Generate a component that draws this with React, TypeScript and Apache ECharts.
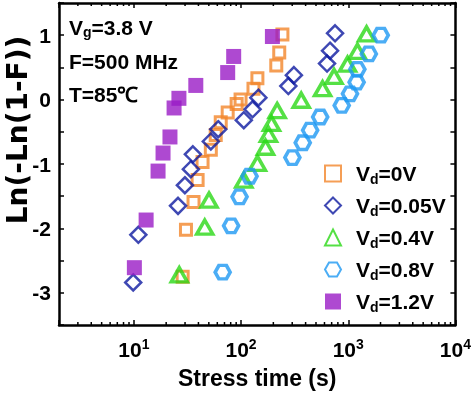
import React, { useEffect, useRef } from "react";
import * as echarts from "echarts";

// ---------- data ----------
const seriesNames = ["Vd=0V", "Vd=0.05V", "Vd=0.4V", "Vd=0.8V", "Vd=1.2V"];
const legendLabels = ["0V", "0.05V", "0.4V", "0.8V", "1.2V"];

const vd0Time = [28.5, 30.6, 36.0, 39.3, 43.7, 52.2, 58.0, 64.6, 75.0, 90.9, 98.9, 130.5, 142, 213, 227, 243];
const vd0Y = [-2.75, -2.02, -1.59, -1.25, -0.97, -0.78, -0.55, -0.35, -0.2, -0.07, 0.0, 0.17, 0.33, 0.53, 0.73, 1.01];

const vd005Time = [9.85, 11.0, 25.8, 29.9, 34.0, 35.5, 52.2, 61.2, 106, 128, 145, 276, 311, 634, 676, 753];
const vd005Y = [-2.84, -2.1, -1.65, -1.33, -1.08, -0.85, -0.65, -0.46, -0.32, -0.15, 0.03, 0.21, 0.38, 0.56, 0.76, 1.03];

const vd04Time = [26.5, 45.8, 50.2, 106, 142, 169, 180, 192, 217, 364, 576, 737, 984, 1217, 1482];
const vd04Y = [-2.72, -1.98, -1.56, -1.25, -0.99, -0.74, -0.54, -0.37, -0.17, -0.01, 0.17, 0.36, 0.55, 0.75, 1.02];

const vd08Time = [67.3, 80.7, 96.8, 120, 301, 376, 441, 547, 869, 1038, 1197, 1217, 1556, 2010];
const vd08Y = [-2.68, -1.96, -1.51, -1.19, -0.9, -0.67, -0.475, -0.27, -0.09, 0.09, 0.27, 0.47, 0.71, 1.0];

const vd12Time = [10.1, 13.0, 16.8, 18.7, 21.7, 23.7, 26.3, 37.8, 75.0, 85.3, 196];
const vd12Y = [-2.61, -1.87, -1.11, -0.83, -0.58, -0.13, 0.02, 0.22, 0.42, 0.67, 0.98];

const xMin = 2;
const xMax = 10000;
const yMin = -3.5;
const yMax = 1.5;
const yInterval = 0.5;
const xMinorTicks = [3, 4, 5, 6, 7, 8, 9, 20, 30, 40, 50, 60, 70, 80, 90, 200, 300, 400, 500, 600, 700, 800, 900, 2000, 3000, 4000, 5000, 6000, 7000, 8000, 9000];

const annotations = [
  { main: "V", sub: "g", rest: "=3.8 V" },
  { main: "F=500 MHz", sub: "", rest: "" },
  { main: "T=85\u2103", sub: "", rest: "" },
];

// ---------- styles ----------
const FONT = '"Liberation Sans", Arial, sans-serif';
const COLORS = ["#F2862A", "#0E1AA0", "#2AD816", "#1E98F2", "#9A1CC6"];
const HEX = "path://M0,8.66 L5,0 L15,0 L20,8.66 L15,17.32 L5,17.32 Z";

function zip(a: number[], b: number[]) {
  return a.map((v, i) => [v, b[i]]);
}

export default function App() {
  const ref = useRef<HTMLDivElement>(null);

  useEffect(() => {
    if (!ref.current) return;
    const chart = echarts.init(ref.current, null, { renderer: "svg" });

    const richMain = {
      v: { fontSize: 21, fontWeight: "bold", fontFamily: FONT, color: "#000", lineHeight: 24 },
      s: { fontSize: 14, fontWeight: "bold", fontFamily: FONT, color: "#000", lineHeight: 8, verticalAlign: "bottom" },
      g: { width: 10, lineHeight: 24 },
    };

    const axisLine = { show: true, onZero: false, lineStyle: { color: "#000", width: 2.5 } };
    const axisTick = { show: true, inside: true, length: 5, lineStyle: { color: "#000", width: 1.5 } };

    const openItem = (c: string, w: number) => ({ color: "rgba(255,255,255,0)", borderColor: c, borderWidth: w });

    const scatterData = [
      zip(vd0Time, vd0Y),
      zip(vd005Time, vd005Y),
      zip(vd04Time, vd04Y),
      zip(vd08Time, vd08Y),
      zip(vd12Time, vd12Y),
    ];

    const option: any = {
      animation: false,
      grid: { left: 59, top: 3, width: 397, height: 322 },
      xAxis: [
        {
          type: "log",
          logBase: 10,
          min: xMin,
          max: xMax,
          position: "bottom",
          axisLine,
          axisTick,
          splitLine: { show: false },
          axisLabel: {
            margin: 12,
            formatter: (v: number) => {
              const e = Math.round(Math.log10(v));
              if (Math.abs(Math.pow(10, e) - v) > 1e-6 * v) return "";
              return `{b|10}{e|${e}}`;
            },
            rich: {
              b: { fontSize: 21, fontWeight: "bold", fontFamily: FONT, color: "#000", lineHeight: 24 },
              e: { fontSize: 14, fontWeight: "bold", fontFamily: FONT, color: "#000", lineHeight: 13, verticalAlign: "top" },
            },
          },
          name: "Stress time (s)",
          nameLocation: "middle",
          nameGap: 41,
          nameTextStyle: { fontSize: 23, fontWeight: "bold", fontFamily: FONT, color: "#000" },
        },
        {
          type: "log",
          logBase: 10,
          min: xMin,
          max: xMax,
          position: "top",
          axisLine,
          axisTick,
          splitLine: { show: false },
          axisLabel: { show: false },
        },
      ],
      yAxis: [
        {
          type: "value",
          min: yMin,
          max: yMax,
          interval: yInterval,
          position: "left",
          axisLine,
          axisTick,
          splitLine: { show: false },
          axisLabel: {
            margin: 8,
            fontSize: 21,
            fontWeight: "bold",
            fontFamily: FONT,
            color: "#000",
            formatter: (v: number) => (Math.abs(v - Math.round(v)) < 1e-9 ? String(Math.round(v)) : ""),
          },
        },
        {
          type: "value",
          min: yMin,
          max: yMax,
          interval: yInterval,
          position: "right",
          axisLine,
          axisTick,
          splitLine: { show: false },
          axisLabel: { show: false },
        },
      ],
      legend: {
        orient: "vertical",
        left: 324,
        top: 163,
        padding: 0,
        itemWidth: 16,
        itemHeight: 16,
        itemGap: 9.5,
        data: seriesNames,
        selectedMode: false,
        formatter: (name: string) => {
          const i = seriesNames.indexOf(name);
          return `{g| }{v|V}{s|d}{v|=${legendLabels[i]}}`;
        },
        textStyle: { rich: richMain },
      },
      graphic: [
        ...annotations.map((a, i) => ({
          type: "text",
          x: 69,
          y: [27, 61, 94][i],
          style: {
            text: a.sub ? `{v|${a.main}}{s|${a.sub}}{v|${a.rest}}` : `{v|${a.main}}`,
            rich: richMain,
            verticalAlign: "middle",
            align: "left",
          },
        })),
        {
          type: "text",
          x: 17,
          y: 130,
          rotation: Math.PI / 2,
          style: {
            text: "Ln(-Ln(1-F))",
            fontSize: 28,
            fontWeight: "bold",
            fontFamily: '"DejaVu Sans", sans-serif',
            fill: "#000",
            align: "center",
            verticalAlign: "middle",
          },
        },
      ],
      series: [
        {
          type: "custom",
          name: "minorTicks",
          xAxisIndex: 0,
          yAxisIndex: 0,
          silent: true,
          clip: false,
          data: xMinorTicks.map((v) => [v, yMin]),
          renderItem: (_p: any, api: any) => {
            const v = api.value(0);
            const b = api.coord([v, yMin]);
            const t = api.coord([v, yMax]);
            return {
              type: "group",
              children: [
                { type: "line", shape: { x1: b[0], y1: b[1], x2: b[0], y2: b[1] - 3 }, style: { stroke: "#000", lineWidth: 1.5 } },
                { type: "line", shape: { x1: t[0], y1: t[1], x2: t[0], y2: t[1] + 3 }, style: { stroke: "#000", lineWidth: 1.5 } },
              ],
            };
          },
        },
        {
          type: "scatter",
          name: seriesNames[0],
          symbol: "rect",
          symbolSize: 11,
          itemStyle: openItem(COLORS[0], 3),
          data: scatterData[0],
        },
        {
          type: "scatter",
          name: seriesNames[1],
          symbol: "diamond",
          symbolSize: 16,
          itemStyle: openItem(COLORS[1], 2.5),
          data: scatterData[1],
        },
        {
          type: "scatter",
          name: seriesNames[2],
          symbol: "triangle",
          symbolSize: [16, 14],
          itemStyle: openItem(COLORS[2], 3.5),
          data: scatterData[2],
        },
        {
          type: "scatter",
          name: seriesNames[3],
          symbol: HEX,
          symbolSize: [15, 13.5],
          itemStyle: openItem(COLORS[3], 3.5),
          data: scatterData[3],
        },
        {
          type: "scatter",
          name: seriesNames[4],
          symbol: "rect",
          symbolSize: 15,
          itemStyle: { color: COLORS[4] },
          data: scatterData[4],
        },
      ],
    };

    chart.setOption(option);
    return () => chart.dispose();
  }, []);

  return <div ref={ref} style={{ position: "fixed", left: 0, top: 0, width: 474, height: 397 }} />;
}
